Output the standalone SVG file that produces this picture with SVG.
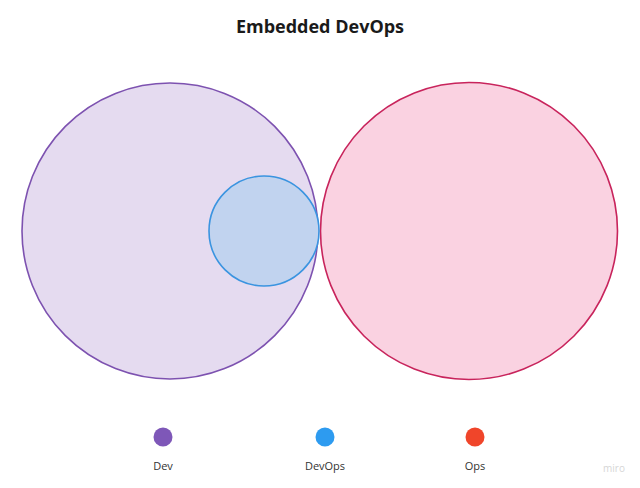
<svg xmlns="http://www.w3.org/2000/svg" width="640" height="488" viewBox="0 0 640 488">
<style>
text{font-family:"Open Sans","Noto Sans","DejaVu Sans",sans-serif}
.title{font-size:18px;font-weight:bold;fill:#1a1a1a}
.lbl{font-size:11px;fill:#333}
</style>
<rect width="640" height="488" fill="#ffffff"/>
<text class="title" x="320" y="33" text-anchor="middle">Embedded DevOps</text>
<g id="dev"><circle cx="170" cy="231" r="148" fill="#e5dbf0" stroke="#7d52b0" stroke-width="1.6"/></g>
<g id="ops"><circle cx="469" cy="231" r="148.5" fill="#fad2e1" stroke="#c8245c" stroke-width="1.6"/></g>
<g id="devops"><circle cx="264" cy="231" r="55" fill="#c1d3ef" stroke="#3a94e0" stroke-width="1.6"/></g>
<g id="connectors"></g>
<g id="legend-dev"><circle cx="163" cy="437" r="9.5" fill="#7e57b8"/><text class="lbl" x="163" y="470" text-anchor="middle">Dev</text></g>
<g id="legend-devops"><circle cx="325" cy="437" r="9.5" fill="#2d9bf0"/><text class="lbl" x="325" y="470" text-anchor="middle">DevOps</text></g>
<g id="legend-ops"><circle cx="475" cy="437" r="9.5" fill="#f0452a"/><text class="lbl" x="475" y="470" text-anchor="middle">Ops</text></g>
<text x="614" y="472" text-anchor="middle" font-size="10" fill="#d6d6d6">miro</text>
</svg>
